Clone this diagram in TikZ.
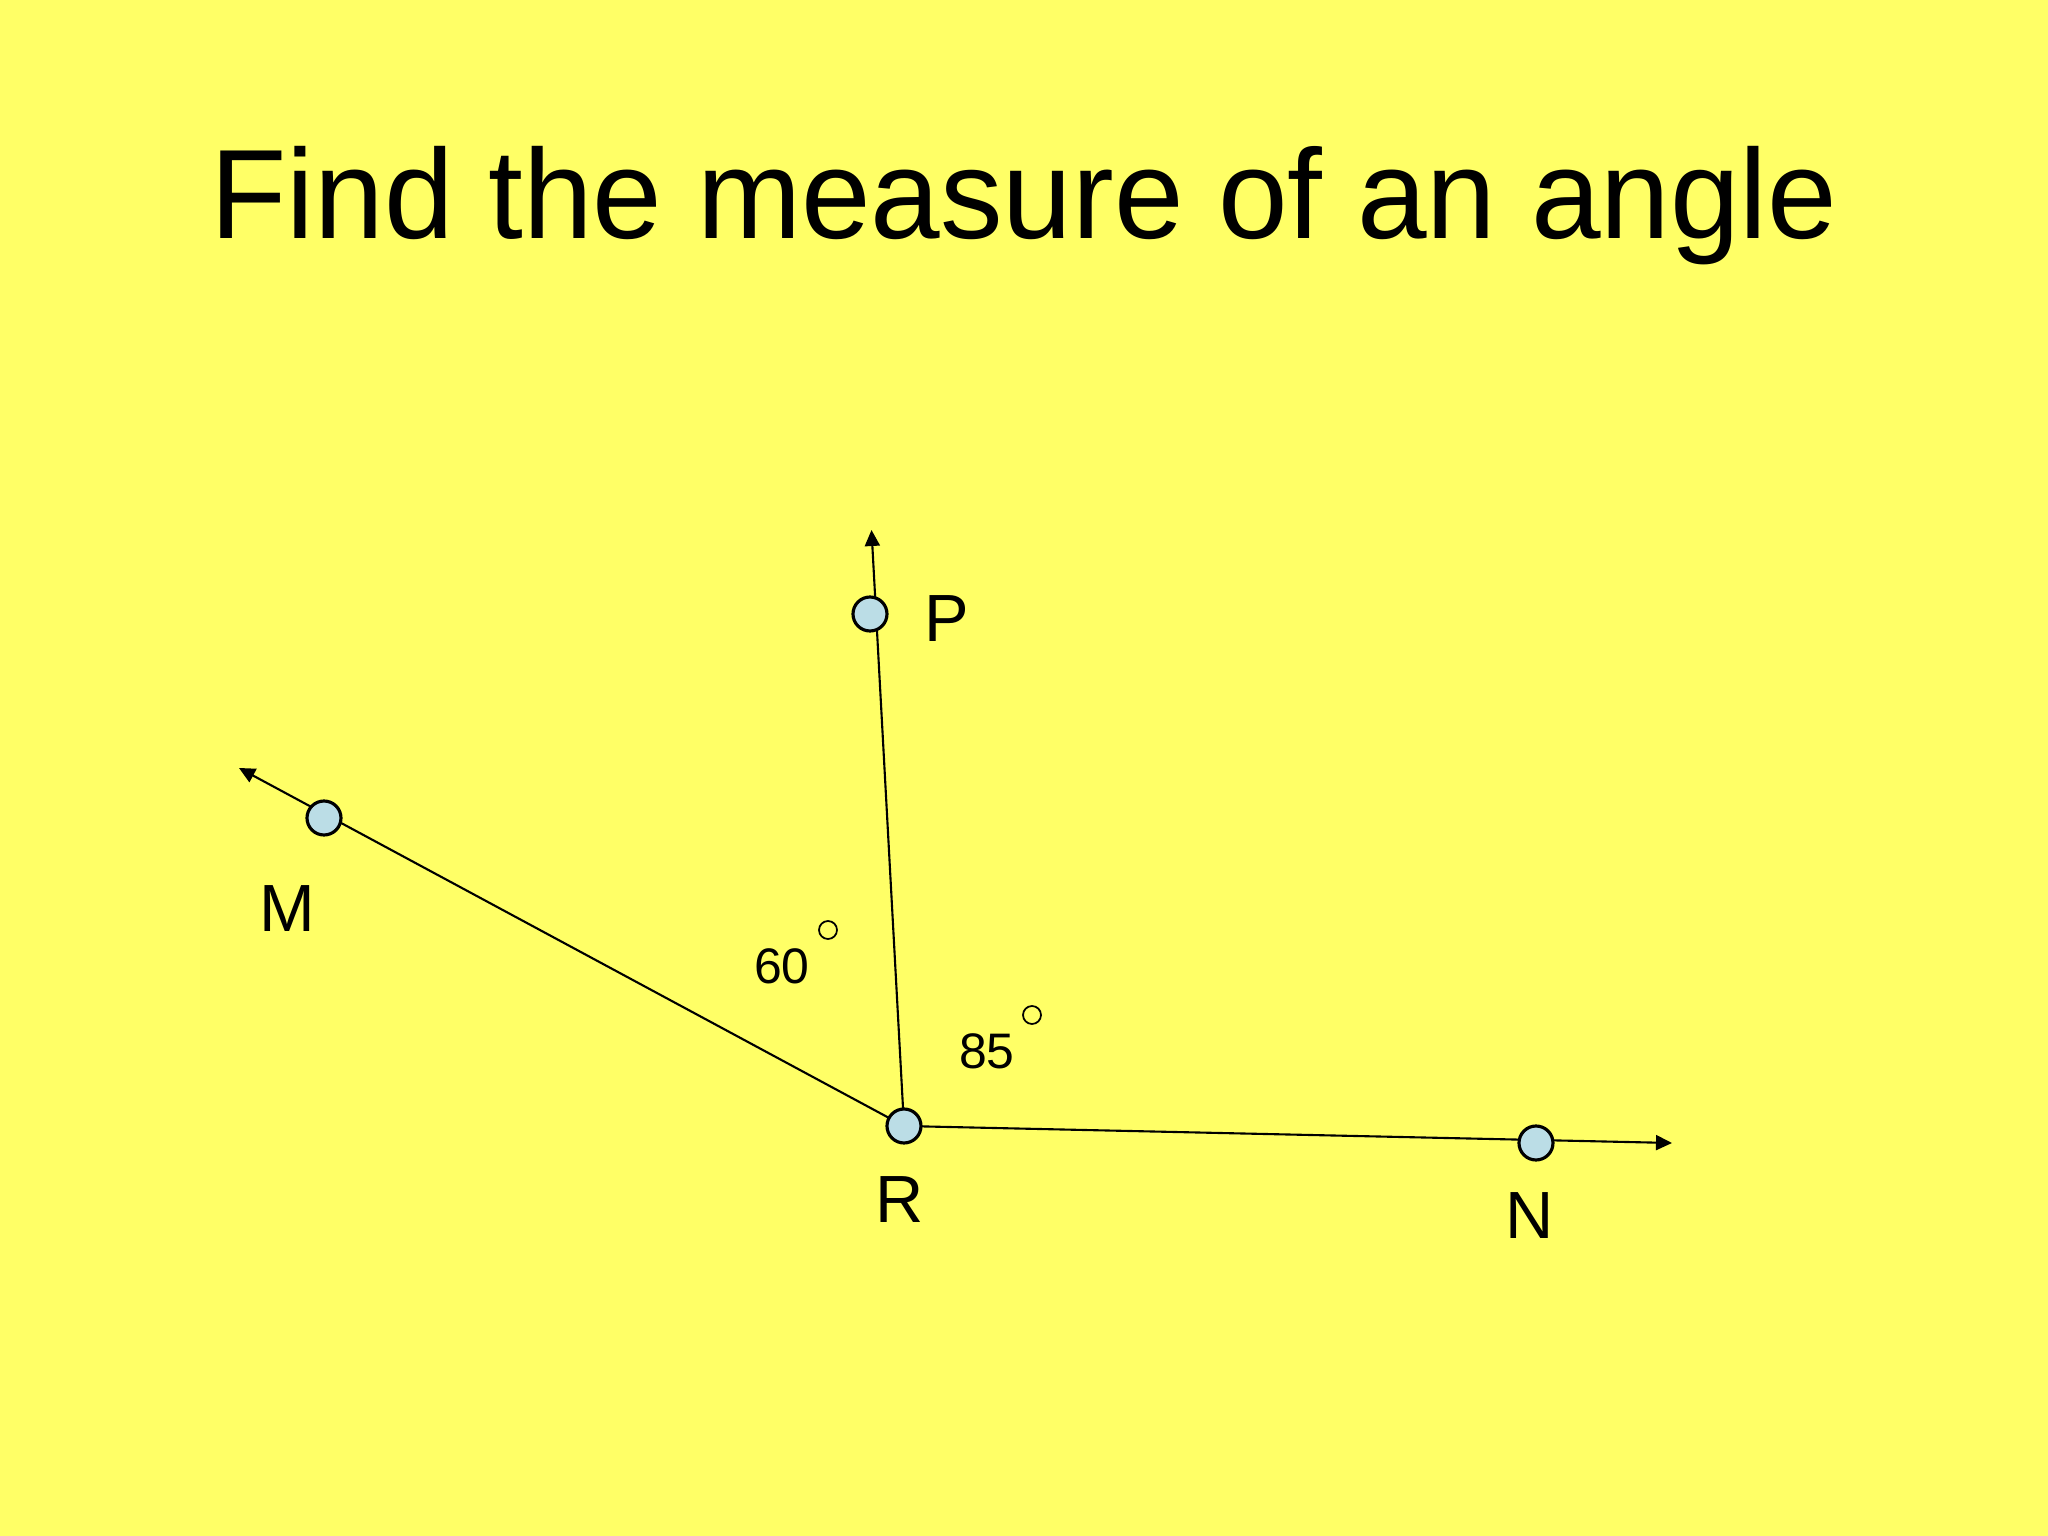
\documentclass[tikz,border=0pt]{standalone}
\usepackage{fontspec}
\setmainfont{Liberation Sans}
\usetikzlibrary{arrows.meta}
\definecolor{bgyellow}{RGB}{255,255,102}
\definecolor{ptblue}{RGB}{187,221,230}
\tikzset{
  ray/.style={line width=0.6pt, -{Triangle[length=0.16cm,width=0.15cm]}},
  pt/.style={circle, draw=black, line width=0.9pt, fill=ptblue, minimum size=0.34cm, inner sep=0pt},
  lbl/.style={anchor=base, inner sep=0pt, font=\fontsize{19pt}{22pt}\selectfont},
  num/.style={anchor=base, inner sep=0pt, font=\fontsize{14.2pt}{17pt}\selectfont},
  deg/.style={circle, draw=black, line width=0.5pt, minimum size=0.18cm, inner sep=0pt},
  ttl/.style={anchor=base, inner sep=0pt, font=\fontsize{36.2pt}{42pt}\selectfont}
}
\begin{document}
\begin{tikzpicture}
\fill[bgyellow] (0,0) rectangle (20.48,-15.36);
\useasboundingbox (0,0) rectangle (20.48,-15.36);
\node[ttl] (title) at (10.24,-2.39) {\scalebox{0.983}[1]{Find the measure of an angle}};
% end coordinates
\coordinate (Ptip) at (8.715,-5.30);
\coordinate (Mtip) at (2.39,-7.68);
\coordinate (Ntip) at (16.72,-11.43);
% rays
\draw[ray] (9.04,-11.26) -- (Ptip);
\draw[ray] (9.04,-11.26) -- (Mtip);
\draw[ray] (9.04,-11.26) -- (Ntip);
% points
\node[pt] (R) at (9.04,-11.26) {};
\node[pt] (P) at (8.70,-6.14) {};
\node[pt] (M) at (3.24,-8.18) {};
\node[pt] (N) at (15.36,-11.43) {};
% labels
\node[lbl] (Plbl) at (9.47,-6.42) {P};
\node[lbl] (Mlbl) at (2.87,-9.32) {M};
\node[lbl] (Rlbl) at (9.00,-12.22) {R};
\node[lbl] (Nlbl) at (15.30,-12.38) {N};
% angle measures
\node[num] (a60) at (7.82,-9.83) {60};
\node[deg] (d60) at (8.28,-9.30) {};
\node[num] (a85) at (9.87,-10.68) {85};
\node[deg] (d85) at (10.32,-10.15) {};
\end{tikzpicture}
\end{document}
